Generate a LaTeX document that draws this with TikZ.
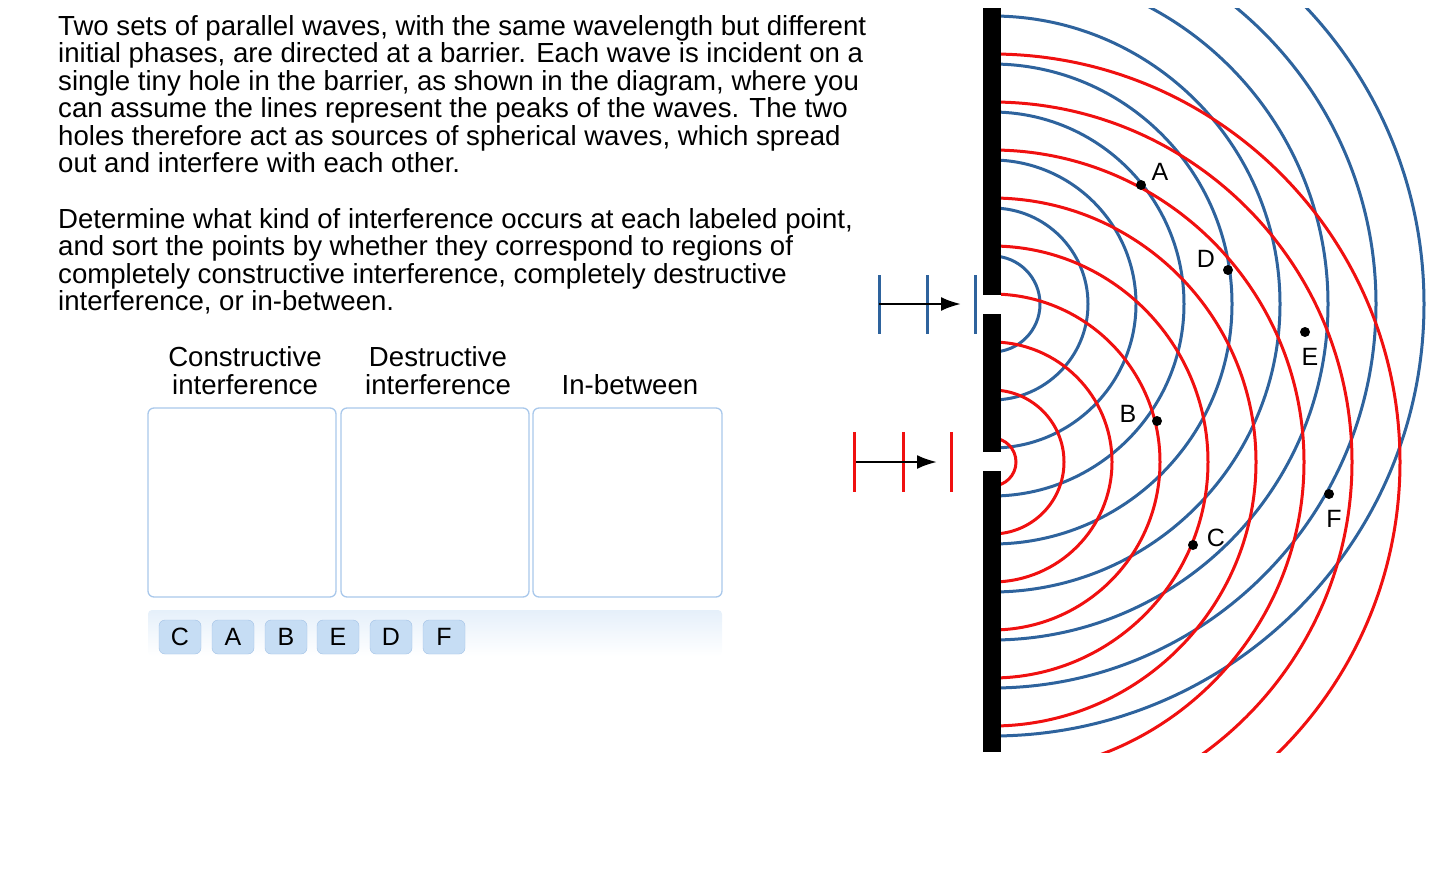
\documentclass[tikz,border=0pt]{standalone}
\usepackage{fontspec}
\setmainfont{Liberation Sans}
\usetikzlibrary{arrows.meta}
\definecolor{wblue}{HTML}{2E639D}
\definecolor{wred}{HTML}{F01010}
\definecolor{bborder}{HTML}{A9C8EB}
\definecolor{chipfill}{HTML}{C6DDF4}
\definecolor{chipdraw}{HTML}{A3C2E6}
\begin{document}
\begin{tikzpicture}[x=1pt,y=-1pt,
  para/.style={anchor=north west,inner sep=0pt,align=left,font=\fontsize{27.6}{27.5}\selectfont},
  head/.style={inner sep=0pt,align=center,font=\fontsize{27.6}{28}\selectfont},
  bin/.style={draw=bborder,line width=1.3pt,rounded corners=6pt,fill=white},
  chip/.style={draw=chipdraw,fill=chipfill,rounded corners=6pt,minimum width=42pt,minimum height=34pt,inner sep=0pt,font=\fontsize{25}{24}\selectfont},
  pt/.style={circle,fill=black,inner sep=0pt,minimum size=10pt},
  lab/.style={inner sep=0pt,font=\fontsize{25}{24}\selectfont},
  wb/.style={wblue,line width=3pt},
  wr/.style={wred,line width=3pt},
  arr/.style={-{Latex[length=20pt,width=14pt]},line width=2.5pt}]
\useasboundingbox (0,0) rectangle (1444,870);
\node[para] (t1) at (58,15) {Two sets of parallel waves, with the same wavelength but different\\initial phases, are directed at a barrier. Each wave is incident on a\\single tiny hole in the barrier, as shown in the diagram, where you\\can assume the lines represent the peaks of the waves. The two\\holes therefore act as sources of spherical waves, which spread\\out and interfere with each other.};
\node[para] (t2) at (58,208) {Determine what kind of interference occurs at each labeled point,\\and sort the points by whether they correspond to regions of\\completely constructive interference, completely destructive\\interference, or in-between.};
\node[head] (h1) at (245,371) {Constructive\\interference};
\node[head] (h2) at (438,371) {Destructive\\interference};
\node[head] (h3) at (630,385) {In-between};
\draw[bin] (148,408) rectangle (336,597);
\draw[bin] (341,408) rectangle (529,597);
\draw[bin] (533,408) rectangle (722,597);
\shade[top color=chipfill!45,bottom color=white,rounded corners=4pt] (148,610) rectangle (722,656);
\node[chip] (cC) at (180,637) {C};
\node[chip] (cA) at (233,637) {A};
\node[chip] (cB) at (286,637) {B};
\node[chip] (cE) at (338,637) {E};
\node[chip] (cD) at (391,637) {D};
\node[chip] (cF) at (444,637) {F};
% waves
\begin{scope}
\clip (1001,8) rectangle (1444,752);
\foreach \r in {48,96,...,432} \draw[wb] (992,304) circle (\r);
\foreach \r in {24,72,...,408} \draw[wr] (992,462) circle (\r);
\end{scope}
% barrier
\fill[black] (983,8) rectangle (1001,295);
\fill[black] (983,314) rectangle (1001,452);
\fill[black] (983,471) rectangle (1001,752);
% incident markers
\foreach \x in {879,927,975} \draw[wb] (\x,275) -- (\x,334);
\coordinate (ba) at (879,304); \coordinate (bb) at (961,304);
\draw[arr] (ba) -- (bb);
\foreach \x in {854,903,951} \draw[wr] (\x,432) -- (\x,492);
\coordinate (ra) at (856,462); \coordinate (rb) at (937,462);
\draw[arr] (ra) -- (rb);
% points
\node[pt] (A) at (1141,185) {}; \node[lab] at (1160,172) {A};
\node[pt] (D) at (1228,270) {}; \node[lab] at (1206,259) {D};
\node[pt] (E) at (1305,332) {}; \node[lab] at (1310,357) {E};
\node[pt] (B) at (1157,421) {}; \node[lab] at (1128,414) {B};
\node[pt] (C) at (1193,545) {}; \node[lab] at (1216,538) {C};
\node[pt] (F) at (1329,494) {}; \node[lab] at (1334,519) {F};
\end{tikzpicture}
\end{document}
